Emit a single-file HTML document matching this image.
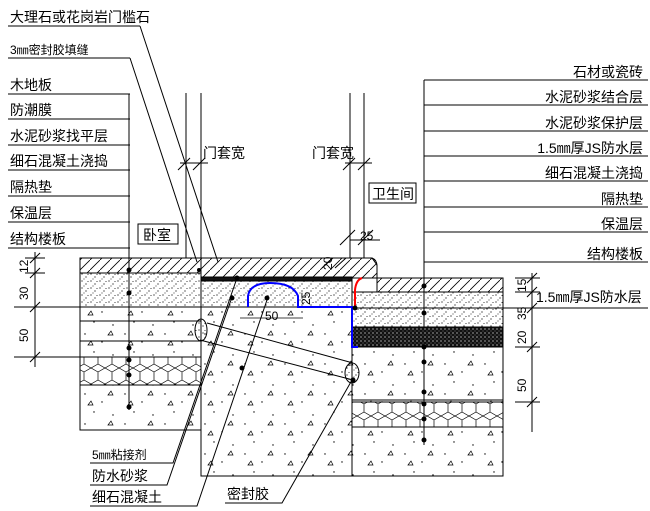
<!DOCTYPE html>
<html><head><meta charset="utf-8"><style>
html,body{margin:0;padding:0;background:#fff}
svg{display:block}
text{font-family:"Liberation Sans","Noto Sans CJK SC","WenQuanYi Zen Hei",sans-serif;font-size:14px;fill:#000}
.s{font-size:12px}
</style></head><body>
<svg width="650" height="511" viewBox="0 0 650 511" xmlns="http://www.w3.org/2000/svg">
<defs>
<pattern id="hatch" width="10" height="10" patternUnits="userSpaceOnUse"><path d="M0 10 L10 0" stroke="#000" stroke-width="0.8"/></pattern>
<pattern id="sand" width="9" height="7" patternUnits="userSpaceOnUse"><circle cx="1" cy="1" r="0.6"/><circle cx="5" cy="4" r="0.6"/><circle cx="7" cy="1.5" r="0.5"/><circle cx="3" cy="6" r="0.5"/></pattern>
<pattern id="conc" width="40" height="30" patternUnits="userSpaceOnUse"><circle cx="5" cy="4" r="0.7"/><circle cx="22" cy="12" r="0.7"/><circle cx="33" cy="25" r="0.7"/><circle cx="14" cy="22" r="0.7"/><path d="M28 5 l3 -4 l2 4z M8 15 l3 -4 l2 4z" fill="none" stroke="#000" stroke-width="0.7"/></pattern>
<pattern id="dark" width="4" height="4" patternUnits="userSpaceOnUse"><rect width="4" height="4" fill="#111"/><circle cx="1" cy="1" r="0.6" fill="#fff"/><circle cx="3" cy="3" r="0.4" fill="#fff"/></pattern>
<pattern id="hex" width="14" height="16" patternUnits="userSpaceOnUse"><path d="M0 4 L7 0 L14 4 L14 12 L7 16 L0 12Z" fill="none" stroke="#000" stroke-width="0.7"/></pattern>
</defs>
<g stroke="#000" stroke-width="1" fill="none">
<!-- left labels lines -->
<path d="M8 26H140 M8 58H130 M8 94H130 M8 119H130 M8 145H130 M8 170H130 M8 196H130 M8 222H130 M8 248H130"/>
<path d="M129 94V410"/>
<path d="M140 26L218 262 M130 58L197 262"/>
<!-- right labels -->
<path d="M424 80H648 M424 105H648 M424 131H648 M424 156H648 M424 181H648 M424 207H648 M424 232H648 M424 262H648"/>
<path d="M424 80V445"/>
<!-- door frames -->
<path d="M186 93V258 M201 93V258 M350 93V258 M364 93V258"/>
<path d="M178 170L190 158 M193 170L205 158 M180 163H208 M343 170L355 158 M358 170L370 158 M345 163H372"/>
<!-- left floor -->
<rect x="80" y="258" width="121" height="15" fill="url(#hatch)"/>
<rect x="80" y="273" width="121" height="34" fill="url(#sand)"/>
<rect x="80" y="307" width="121" height="50" fill="url(#conc)"/>
<path d="M80 321H201 M80 341H201"/>
<rect x="80" y="357" width="121" height="28" fill="url(#hex)"/>
<rect x="80" y="385" width="121" height="45" fill="url(#conc)"/>
<path d="M80 258V430H201V476H503"/>
<!-- center -->
<path d="M201 258H372L377 265V278 L377 292" />
<path d="M201 258H372Q377 260 377 266V278H352V277H201Z" fill="url(#hatch)"/>
<rect x="201" y="277" width="151" height="4" fill="#111"/>
<rect x="201" y="281" width="151" height="26" fill="url(#sand)"/>
<path d="M201 307V476 M201 307H352" stroke-width="0.6"/>
<path d="M201 307 L352 307 L352 476 L201 476Z" fill="url(#conc)" stroke="none"/>
<path d="M207 323L353 363 M200 340L353 380"/>
<path d="M14 307H201 M14 357H80"/>
<!-- right floor -->
<rect x="377" y="278" width="126" height="14" fill="url(#hatch)"/>
<rect x="352" y="292" width="151" height="35" fill="url(#sand)"/>
<rect x="352" y="327" width="151" height="20" fill="url(#dark)"/>
<rect x="352" y="347" width="151" height="55" fill="url(#conc)"/>
<rect x="352" y="402" width="151" height="25" fill="url(#hex)"/>
<rect x="352" y="427" width="151" height="49" fill="url(#conc)"/>
<path d="M377 278H503V476 M352 308H648 M352 347V476 M352 400H503"/>
<!-- blue / red -->
<path d="M248 307V296Q250 283 270 283Q293 283 298 296V307H352V347H358" stroke="#00f" stroke-width="2"/>
<path d="M355 308V290Q356 280 362 278" stroke="#f00" stroke-width="2"/>
<ellipse cx="201" cy="330" rx="6" ry="11" fill="url(#sand)"/>
<ellipse cx="352" cy="373" rx="7" ry="10" fill="url(#sand)"/>
<path d="M240 318H303" stroke-width="0.7"/>
<!-- leaders bottom -->
<path d="M90 463H173L237 278 M90 485H167L232 297 M90 506H197L268 297 M225 503H282L352 380"/>
<!-- left dims -->
<path d="M35 252V367 M25 258H45 M25 273H45 M25 307H45 M25 357H45 M30 263L40 253 M30 278L40 268 M30 312L40 302 M30 362L40 352"/>
<!-- right dims -->
<path d="M532 273V432 M515 278H540 M515 292H540 M515 308H540 M515 347H540 M515 402H540 M527 283L537 273 M527 297L537 287 M527 313L537 303 M527 352L537 342 M527 407L537 397"/>
<path d="M340 245L355 230 M358 245L373 230 M350 240H380 M322 268L333 258 M335 268L346 258"/>
</g>
<g fill="#000">
<circle cx="129" cy="270" r="2.5"/><circle cx="129" cy="293" r="2.5"/><circle cx="129" cy="348" r="2.5"/><circle cx="129" cy="360" r="2.5"/><circle cx="129" cy="375" r="2.5"/><circle cx="129" cy="407" r="2.5"/>
<circle cx="424" cy="286" r="2.5"/><circle cx="424" cy="313" r="2.5"/><circle cx="424" cy="347" r="2.5"/><circle cx="424" cy="362" r="2.5"/><circle cx="424" cy="392" r="2.5"/><circle cx="424" cy="404" r="2.5"/><circle cx="424" cy="419" r="2.5"/><circle cx="424" cy="440" r="2.5"/>
<circle cx="237" cy="278" r="2.5"/><circle cx="232" cy="298" r="2.5"/><circle cx="267" cy="298" r="2.5"/><circle cx="242" cy="368" r="2.5"/><circle cx="355" cy="308" r="2.5"/><circle cx="353" cy="380" r="2.5"/><circle cx="199" cy="270" r="2"/>
</g>
<text x="10" y="22">大理石或花岗岩门槛石</text>
<text x="10" y="54" class="s">3㎜密封胶填缝</text>
<text x="10" y="90">木地板</text>
<text x="10" y="115">防潮膜</text>
<text x="10" y="141">水泥砂浆找平层</text>
<text x="10" y="166">细石混凝土浇捣</text>
<text x="10" y="192">隔热垫</text>
<text x="10" y="218">保温层</text>
<text x="10" y="244">结构楼板</text>
<text x="643" y="77" text-anchor="end">石材或瓷砖</text>
<text x="643" y="102" text-anchor="end">水泥砂浆结合层</text>
<text x="643" y="128" text-anchor="end">水泥砂浆保护层</text>
<text x="643" y="153" text-anchor="end">1.5㎜厚JS防水层</text>
<text x="643" y="178" text-anchor="end">细石混凝土浇捣</text>
<text x="643" y="204" text-anchor="end">隔热垫</text>
<text x="643" y="229" text-anchor="end">保温层</text>
<text x="643" y="259" text-anchor="end">结构楼板</text>
<text x="536" y="302">1.5㎜厚JS防水层</text>
<text x="203" y="158">门套宽</text>
<text x="312" y="158">门套宽</text>
<rect x="138" y="224" width="40" height="20" fill="none" stroke="#000"/><text x="143" y="240">卧室</text>
<rect x="369" y="183" width="47" height="20" fill="none" stroke="#000"/><text x="372" y="199">卫生间</text>
<text x="360" y="240" class="s">25</text>
<text x="265" y="320" class="s">50</text>
<g class="s">
<text transform="translate(28,273) rotate(-90)" class="s">12</text>
<text transform="translate(28,300) rotate(-90)" class="s">30</text>
<text transform="translate(28,342) rotate(-90)" class="s">50</text>
<text transform="translate(526,292) rotate(-90)" class="s">15</text>
<text transform="translate(526,320) rotate(-90)" class="s">35</text>
<text transform="translate(526,344) rotate(-90)" class="s">20</text>
<text transform="translate(526,392) rotate(-90)" class="s">50</text>
<text transform="translate(332,270) rotate(-90)" class="s">20</text>
<text transform="translate(310,305) rotate(-90)" class="s">25</text>
</g>
<text x="92" y="459" class="s">5㎜粘接剂</text>
<text x="92" y="481">防水砂浆</text>
<text x="92" y="502">细石混凝土</text>
<text x="227" y="499">密封胶</text>
</svg>
</body></html>
